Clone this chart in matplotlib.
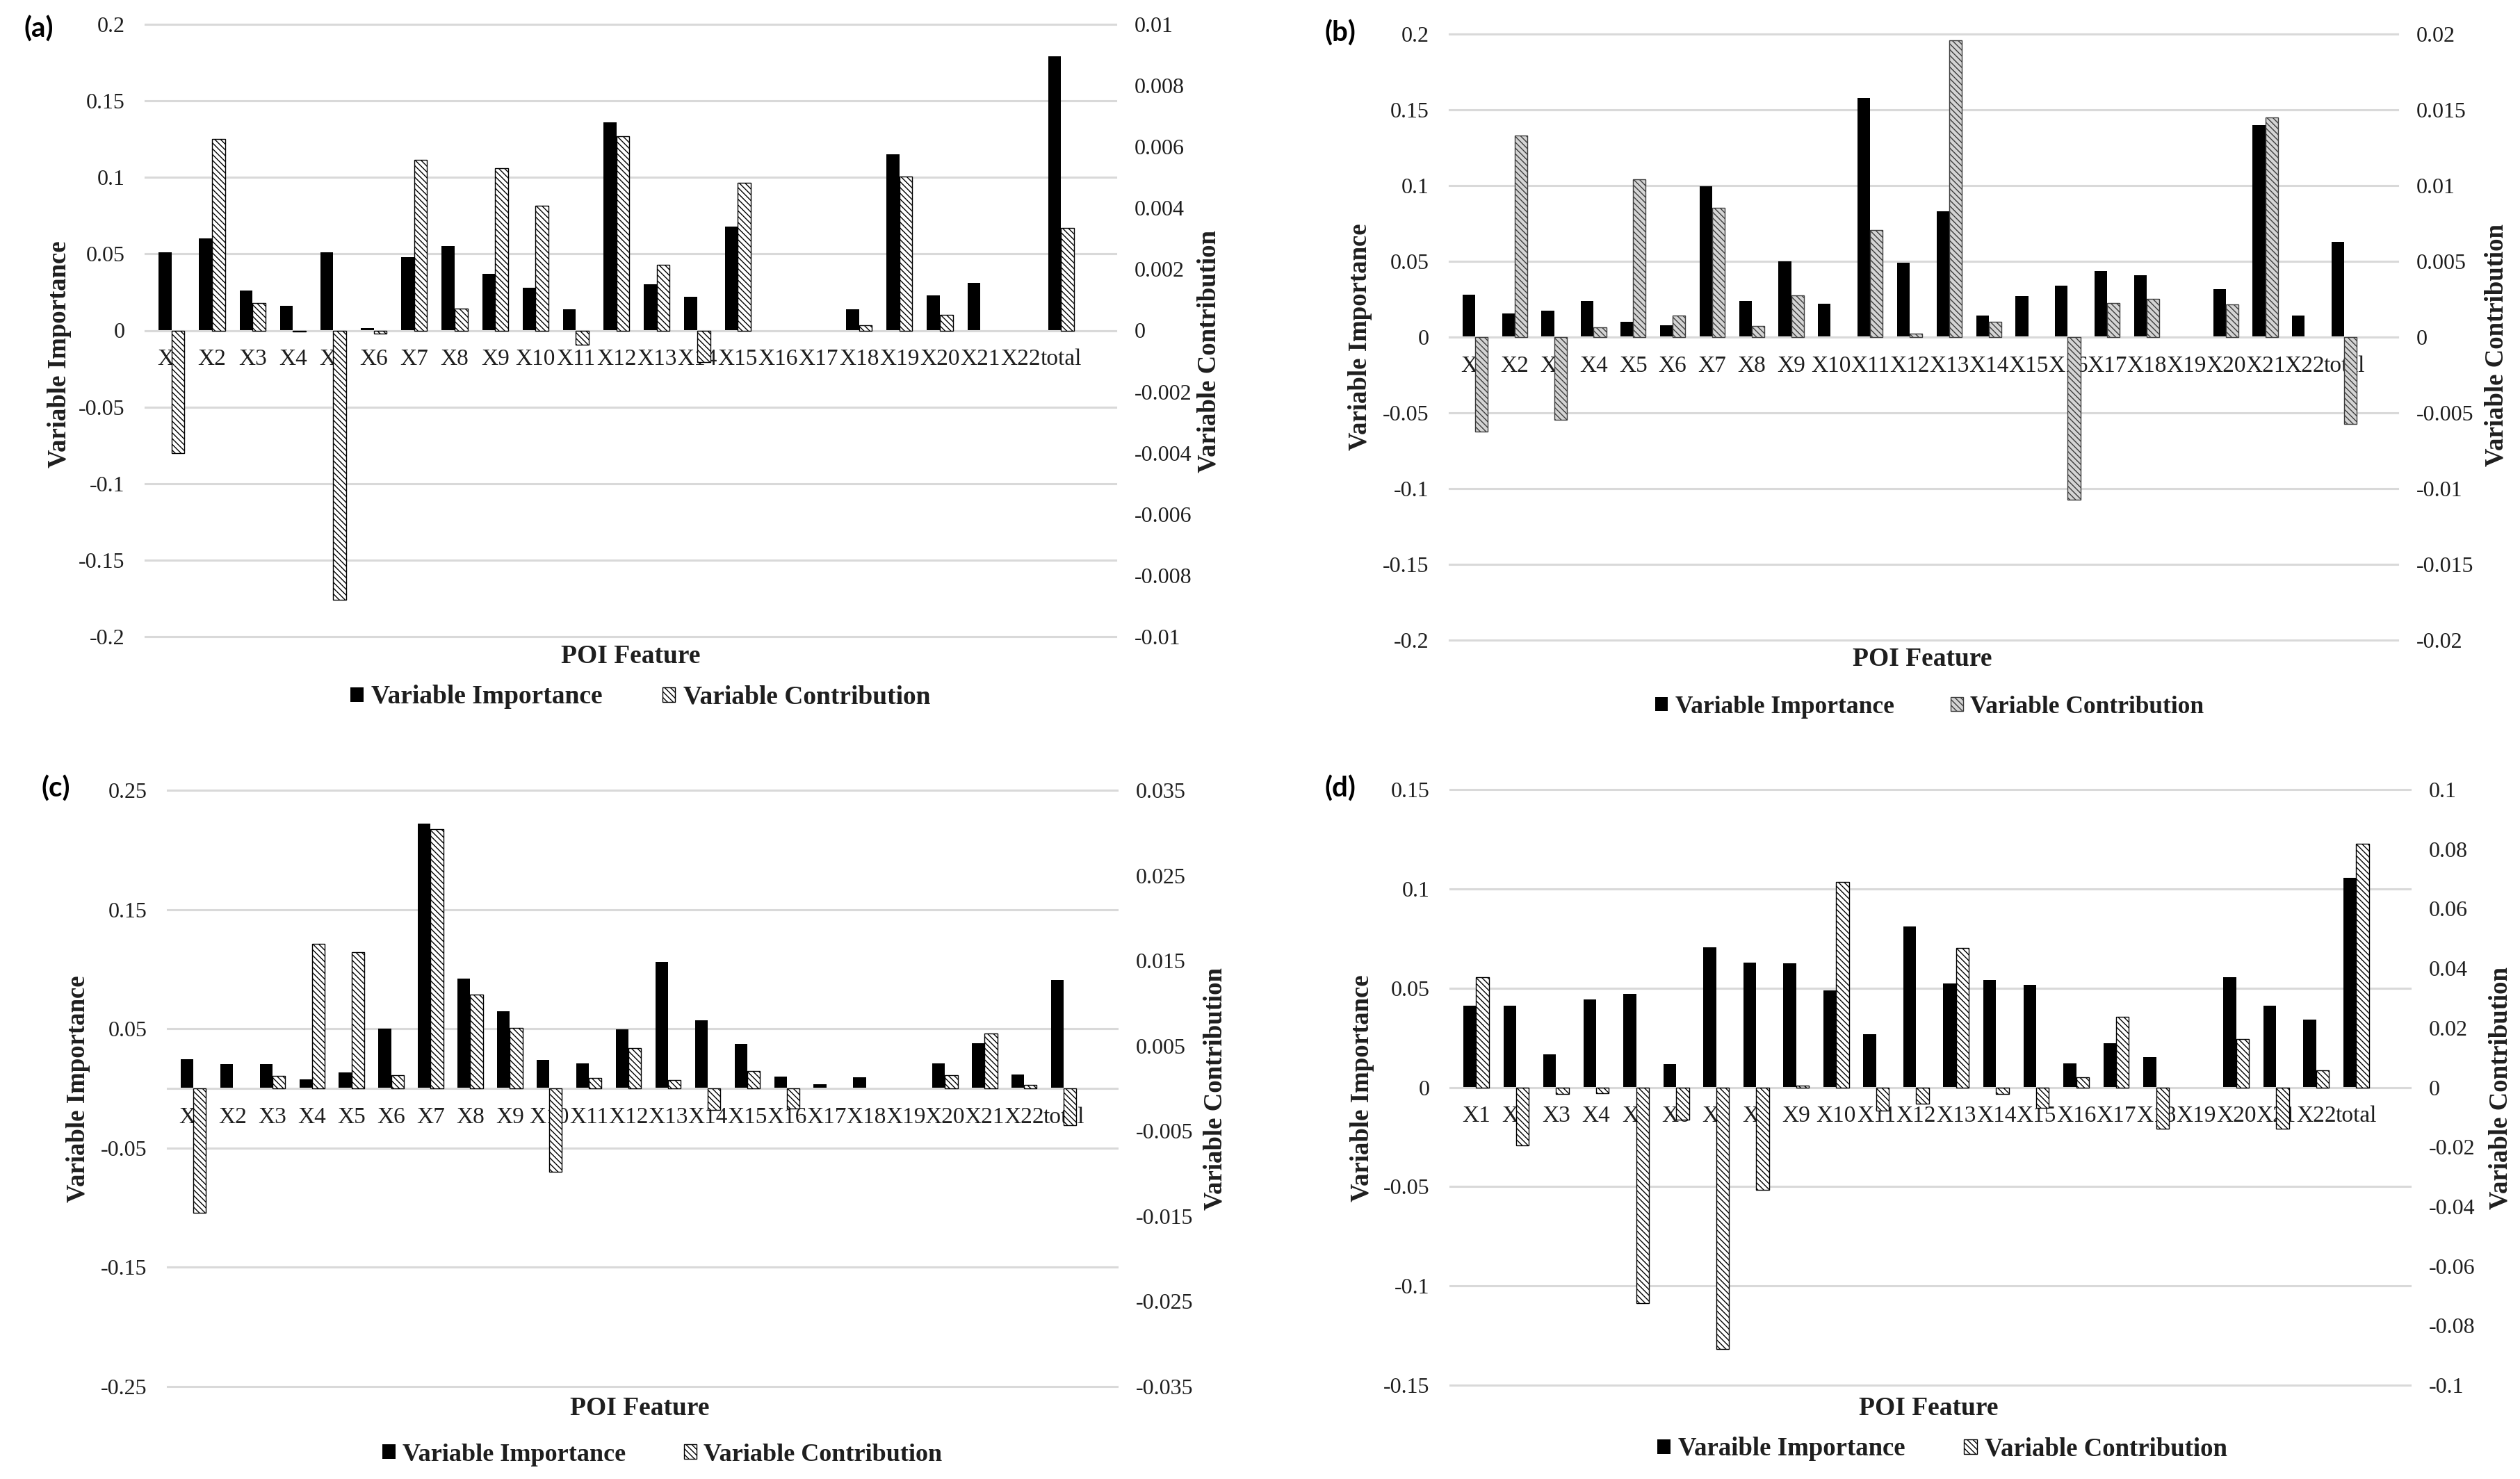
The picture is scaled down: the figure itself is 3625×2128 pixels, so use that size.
import matplotlib
matplotlib.use('Agg')
import matplotlib.pyplot as plt
from matplotlib.patches import Patch
import numpy as np

# ---------------- data ----------------
categories = ['X1', 'X2', 'X3', 'X4', 'X5', 'X6', 'X7', 'X8', 'X9', 'X10', 'X11', 'X12',
              'X13', 'X14', 'X15', 'X16', 'X17', 'X18', 'X19', 'X20', 'X21', 'X22', 'total']

imp_a = [0.051, 0.060, 0.026, 0.016, 0.051, 0.0015, 0.048, 0.055, 0.037, 0.028, 0.014, 0.136,
         0.030, 0.022, 0.068, 0, 0, 0.014, 0.115, 0.023, 0.031, 0, 0.179]
con_a = [-0.0040, 0.00626, 0.00089, -0.00004, -0.0088, -0.0001, 0.00558, 0.00071, 0.0053, 0.00408,
         -0.00046, 0.00635, 0.00214, -0.00103, 0.00482, 0, 0, 0.00018, 0.00503, 0.00052, 0, 0, 0.00335]

imp_b = [0.028, 0.0156, 0.0175, 0.024, 0.0103, 0.0078, 0.0997, 0.024, 0.050, 0.0219, 0.158, 0.049,
         0.083, 0.014, 0.027, 0.034, 0.0438, 0.0406, 0, 0.0316, 0.140, 0.014, 0.063]
con_b = [-0.00625, 0.0133, -0.00547, 0.00066, 0.0104, 0.0014, 0.00853, 0.00075, 0.00275, 0,
         0.00706, 0.00022, 0.0196, 0.0010, 0, -0.01075, 0.00225, 0.00253, 0, 0.00216, 0.0145, 0, -0.00575]

imp_c = [0.0246, 0.0202, 0.0202, 0.0075, 0.0135, 0.050, 0.222, 0.092, 0.0646, 0.0238, 0.021, 0.0495,
         0.106, 0.0574, 0.0372, 0.0099, 0.0036, 0.0091, 0, 0.021, 0.0376, 0.0115, 0.091]
con_c = [-0.0146, 0, 0.00144, 0.017, 0.016, 0.00156, 0.0304, 0.011, 0.00706, -0.00983, 0.00122,
         0.00472, 0.0010, -0.00256, 0.0020, -0.0024, 0, 0, 0, 0.00156, 0.00644, 0.00044, -0.00433]

imp_d = [0.0413, 0.0413, 0.0166, 0.0442, 0.047, 0.0119, 0.0705, 0.063, 0.0625, 0.049, 0.0268, 0.081,
         0.0525, 0.054, 0.0515, 0.0121, 0.0223, 0.0152, 0, 0.0556, 0.0413, 0.034, 0.1057]
con_d = [0.0369, -0.0195, -0.0022, -0.0019, -0.0725, -0.0108, -0.0879, -0.0344, 0.0005, 0.0689,
         -0.0079, -0.0055, 0.0469, -0.0022, -0.0070, 0.0033, 0.0236, -0.0138, 0, 0.0163, -0.0139,
         0.0057, 0.0819]

left_ticks_a = [0.2, 0.15, 0.1, 0.05, 0, -0.05, -0.1, -0.15, -0.2]
right_ticks_a = [0.01, 0.008, 0.006, 0.004, 0.002, 0, -0.002, -0.004, -0.006, -0.008, -0.01]
left_ticks_b = [0.2, 0.15, 0.1, 0.05, 0, -0.05, -0.1, -0.15, -0.2]
right_ticks_b = [0.02, 0.015, 0.01, 0.005, 0, -0.005, -0.01, -0.015, -0.02]
left_ticks_c = [0.25, 0.15, 0.05, -0.05, -0.15, -0.25]
right_ticks_c = [0.035, 0.025, 0.015, 0.005, -0.005, -0.015, -0.025, -0.035]
left_ticks_d = [0.15, 0.1, 0.05, 0, -0.05, -0.1, -0.15]
right_ticks_d = [0.1, 0.08, 0.06, 0.04, 0.02, 0, -0.02, -0.04, -0.06, -0.08, -0.1]

legend_abc = ['Variable Importance', 'Variable Contribution']
legend_d = ['Varaible Importance', 'Variable Contribution']
x_title = 'POI Feature'
y_title_left = 'Variable Importance'
y_title_right = 'Variable Contribution'

# ---------------- layout ----------------
W, H = 3625, 2128
fig = plt.figure(figsize=(W / 100, H / 100), dpi=100)
fig.patch.set_facecolor('white')

SERIF = ['Liberation Serif', 'DejaVu Serif']
TXT = '#1e1e1e'
GRID = '#d9d9d9'


def fx(px):
    return px / W


def fy(py):
    return 1 - py / H


def fmt(v):
    return '0' if v == 0 else f'{v:g}'


panels = [
    dict(letter='(a)', imp=imp_a, con=con_a, lt=left_ticks_a, rt=right_ticks_a, leg=legend_abc,
         box=(209, 35, 1605, 916), letter_xy=(56, 42), yl=(86, 510), yr=(1739, 506),
         xt=(907, 945), lg=(921, 1003), lgsize=27, face='white', edge='black'),
    dict(letter='(b)', imp=imp_b, con=con_b, lt=left_ticks_b, rt=right_ticks_b, leg=legend_abc,
         box=(2085, 49, 3449, 921), letter_xy=(1928, 48), yl=(1957, 485), yr=(3591, 497),
         xt=(2765, 949), lg=(2776, 1017), lgsize=25.5, face='#d4d4d4', edge='#3c3c3c'),
    dict(letter='(c)', imp=imp_c, con=con_c, lt=left_ticks_c, rt=right_ticks_c, leg=legend_abc,
         box=(241, 1137, 1607, 1995), letter_xy=(80, 1135), yl=(113, 1567), yr=(1748, 1567),
         xt=(920, 2027), lg=(953, 2093), lgsize=26, face='white', edge='black'),
    dict(letter='(d)', imp=imp_d, con=con_d, lt=left_ticks_d, rt=right_ticks_d, leg=legend_d,
         box=(2086, 1136, 3467, 1993), letter_xy=(1928, 1135), yl=(1960, 1566), yr=(3597, 1566),
         xt=(2774, 2027), lg=(2794, 2085), lgsize=26.5, face='white', edge='black'),
]

HATCH = '\\\\\\\\'
x = np.arange(len(categories))
w = 0.32

for p in panels:
    l, t, r, b = p['box']
    ax = fig.add_axes([fx(l), fy(b), (r - l) / W, (b - t) / H])
    ax2 = ax.twinx()

    bars1 = ax.bar(x - w / 2, p['imp'], w, color='black', linewidth=0, zorder=2)
    bars2 = ax2.bar(x + w / 2, p['con'], w, facecolor=p['face'], edgecolor=p['edge'],
                    hatch=HATCH, linewidth=1.0, zorder=2)
    for bar, v in zip(bars2, p['con']):
        if v == 0:
            bar.set_visible(False)
    for bar, v in zip(bars1, p['imp']):
        if v == 0:
            bar.set_visible(False)

    # Excel category axis leaves one spare slot at the right end
    ax.set_xlim(-0.65, len(categories) + 0.35)
    ax.set_ylim(p['lt'][-1], p['lt'][0])
    ax2.set_ylim(p['rt'][-1], p['rt'][0])

    ax.set_yticks(p['lt'])
    ax.set_yticklabels([fmt(v) for v in p['lt']])
    ax2.set_yticks(p['rt'])
    ax2.set_yticklabels([fmt(v) for v in p['rt']])

    ax.set_axisbelow(True)
    ax.grid(axis='y', color=GRID, linewidth=2.2)
    ax.grid(axis='x', visible=False)
    for gl in ax.get_ygridlines():
        gl.set_clip_on(False)

    for s in ('top', 'left', 'right'):
        ax.spines[s].set_visible(False)
        ax2.spines[s].set_visible(False)
    ax2.spines['bottom'].set_visible(False)
    ax.spines['bottom'].set_position(('data', 0))
    ax.spines['bottom'].set_color(GRID)
    ax.spines['bottom'].set_linewidth(2.2)

    ax.set_xticks(x)
    ax.set_xticklabels(categories, fontfamily=SERIF, fontsize=24, color=TXT)
    ax.tick_params(axis='x', length=0, pad=19)
    ax.tick_params(axis='y', length=0, pad=21, labelsize=23, labelcolor=TXT)
    ax2.tick_params(axis='y', length=0, pad=19, labelsize=23, labelcolor=TXT)
    for lab in ax.get_yticklabels() + ax2.get_yticklabels():
        lab.set_fontfamily(SERIF)

    # texts
    fig.text(fx(p['letter_xy'][0]), fy(p['letter_xy'][1]), p['letter'], ha='center', va='center',
             fontsize=29, fontweight='bold', family=['Lato', 'DejaVu Sans'], color='black')
    fig.text(fx(p['yl'][0]), fy(p['yl'][1]), y_title_left, rotation=90, ha='center', va='center',
             fontsize=26.5, fontweight='bold', family=SERIF, color=TXT)
    fig.text(fx(p['yr'][0]), fy(p['yr'][1]), y_title_right, rotation=90, ha='center', va='center',
             fontsize=26.5, fontweight='bold', family=SERIF, color=TXT)
    fig.text(fx(p['xt'][0]), fy(p['xt'][1]), x_title, ha='center', va='center',
             fontsize=27, fontweight='bold', family=SERIF, color=TXT)

    h1 = Patch(facecolor='black', edgecolor='none')
    h2 = Patch(facecolor=p['face'], edgecolor=p['edge'], hatch=HATCH, linewidth=1.0)
    fig.legend([h1, h2], p['leg'], loc='center', bbox_to_anchor=(fx(p['lg'][0]), fy(p['lg'][1])),
               ncol=2, frameon=False,
               prop=dict(family=SERIF, weight='bold', size=p['lgsize']),
               handlelength=0.5, handleheight=0.5, handletextpad=0.3, columnspacing=2.3,
               labelcolor=TXT)

fig.savefig('out.png', dpi=100, facecolor='white')
